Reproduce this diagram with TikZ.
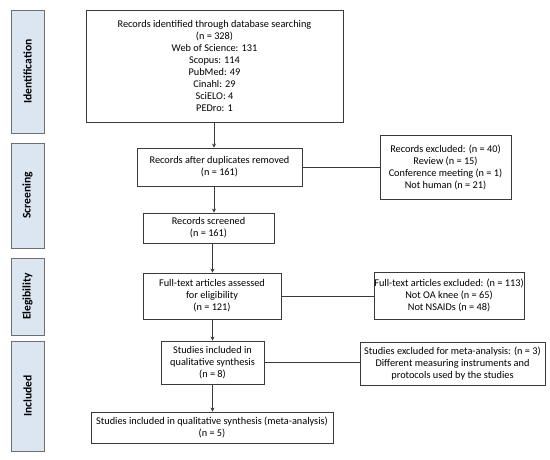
\documentclass[tikz,border=0pt]{standalone}
\usepackage{fontspec}
\setmainfont{Carlito}
\usetikzlibrary{arrows.meta}
\definecolor{sidefill}{HTML}{DCE6F2}
\definecolor{sidedraw}{HTML}{6F6F6F}
\definecolor{linec}{HTML}{3A3A3A}
\tikzset{
  box/.style={draw=linec, line width=0.8pt, inner sep=0pt, align=center,
    font=\fontsize{10.3}{12}\selectfont, text=black},
  side/.style={draw=sidedraw, fill=sidefill, line width=0.9pt, inner sep=0pt,
    font=\fontsize{11.6}{13}\selectfont\bfseries, rotate=90, text=black},
  flow/.style={draw=linec, line width=0.8pt, -{Stealth[length=4pt,width=4pt]}},
  link/.style={draw=linec, line width=0.8pt}
}
\begin{document}
\begin{tikzpicture}[x=1pt,y=-1pt]
\useasboundingbox (0,0) rectangle (550,459);
% side labels
\node[side, minimum width=123pt, minimum height=33pt] (sid) at (27.5,71.5) {Identification};
\node[side, minimum width=105pt, minimum height=33pt] (sscr) at (27.5,195.5) {Screening};
\node[side, minimum width=77pt, minimum height=33pt] (sel) at (27.5,296.5) {Elegibility};
\node[side, minimum width=110pt, minimum height=33pt] (sinc) at (27.5,396) {Included};
% main boxes
\node[box, minimum width=257pt, minimum height=112pt] (ident) at (214.5,66) {Records identified through database searching\\(n = 328)\\Web of Science: 131\\Scopus: 114\\PubMed: 49\\Cinahl: 29\\SciELO: 4\\PEDro: 1};
\node[box, minimum width=165pt, minimum height=38pt] (dup) at (219.5,167) {Records after duplicates removed\\(n = 161)};
\node[box, minimum width=131pt, minimum height=64pt] (ex1) at (445.5,167) {Records excluded: (n = 40)\\Review (n = 15)\\Conference meeting (n = 1)\\Not human (n = 21)};
\node[box, minimum width=131pt, minimum height=30pt] (scr) at (208.5,228) {Records screened\\(n = 161)};
\node[box, minimum width=138pt, minimum height=46pt] (ft) at (212,296) {Full-text articles assessed\\for eligibility\\(n = 121)};
\node[box, minimum width=150pt, minimum height=47pt] (ex2) at (449,295.5) {Full-text articles excluded: (n = 113)\\Not OA knee (n = 65)\\Not NSAIDs (n = 48)};
\node[box, minimum width=103pt, minimum height=43pt] (qs) at (212.5,362.5) {Studies included in\\qualitative synthesis\\(n = 8)};
\node[box, minimum width=185pt, minimum height=43pt] (ex3) at (452.5,363.5) {Studies excluded for meta-analysis: (n = 3)\\Different measuring instruments and\\protocols used by the studies};
\node[box, minimum width=242pt, minimum height=31pt] (meta) at (212,427.5) {Studies included in qualitative synthesis (meta-analysis)\\(n = 5)};
% connectors
\coordinate (colA) at (214,0);
\coordinate (colB) at (212.5,0);
\draw[flow] (ident.south -| colA) -- (dup.north -| colA);
\draw[flow] (dup.south -| colA) -- (scr.north -| colA);
\draw[flow] (scr.south -| colB) -- (ft.north -| colB);
\draw[flow] (ft.south -| colB) -- (qs.north -| colB);
\draw[flow] (qs.south -| colB) -- (meta.north -| colB);
\draw[link] (dup.east) -- (ex1.west |- dup.east);
\draw[link] (ft.east) -- (ex2.west |- ft.east);
\draw[link] (qs.east) -- (ex3.west |- qs.east);
\end{tikzpicture}
\end{document}
